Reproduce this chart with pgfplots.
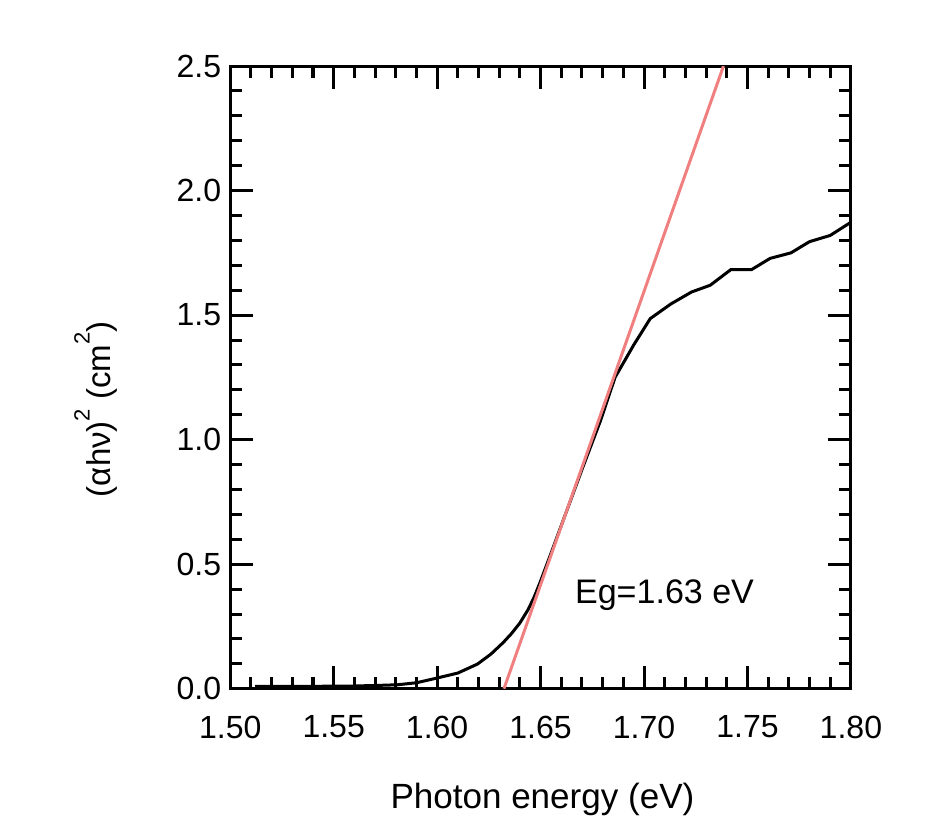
\documentclass[border=0pt]{standalone}
\usepackage{fontspec}
\setmainfont{Liberation Sans}
\usepackage{pgfplots}
\pgfplotsset{compat=1.18}

\definecolor{fitred}{RGB}{240,128,128}
\newcommand{\sq}{\raisebox{0.62em}{\fontsize{11}{11}\selectfont 2}}

\begin{document}
\begin{tikzpicture}
\begin{axis}[
  scale only axis,
  width=310pt, height=311pt,
  xmin=1.50, xmax=1.80,
  ymin=0, ymax=2.5,
  xtick={1.50,1.55,...,1.80},
  ytick={0,0.5,...,2.5},
  minor x tick num=4,
  minor y tick num=4,
  tick align=inside,
  major tick length=11.5pt,
  minor tick length=6pt,
  axis line style={line width=1.5pt},
  every tick/.style={black, line width=1.5pt},
  /pgf/number format/assume math mode=true,
  xticklabel={\pgfmathprintnumber[fixed,fixed zerofill,precision=2]{\tick}},
  yticklabel={\pgfmathprintnumber[fixed,fixed zerofill,precision=1]{\tick}},
  tick label style={font=\fontsize{16}{18}\selectfont},
  xticklabel style={yshift=-10pt},
  yticklabel style={xshift=-1pt},
  xlabel={Photon energy (eV)},
  ylabel={(αhν)\sq\ (cm\sq)},
  xlabel style={font=\fontsize{17.5}{20}\selectfont, at={(axis description cs:0.503,-0.193)}, anchor=base},
  ylabel style={font=\fontsize{16.5}{19}\selectfont, at={(axis description cs:-0.1935,0.449)}, anchor=base, rotate=0},
  clip=true,
]
% absorption spectrum
\addplot[black, line width=1.5pt] coordinates {
  (1.512,0.009) (1.520,0.009) (1.530,0.009) (1.545,0.010) (1.560,0.011)
  (1.570,0.013) (1.581,0.016) (1.590,0.024) (1.600,0.043) (1.610,0.063)
  (1.6195,0.099) (1.626,0.139) (1.632,0.186) (1.636,0.222) (1.640,0.264)
  (1.644,0.318) (1.647,0.370) (1.650,0.432) (1.656,0.565) (1.662,0.700)
  (1.670,0.880) (1.679,1.077) (1.686,1.250) (1.695,1.380) (1.703,1.486)
  (1.713,1.545) (1.723,1.593) (1.732,1.620) (1.742,1.683) (1.752,1.683)
  (1.761,1.728) (1.771,1.750) (1.780,1.795) (1.790,1.820) (1.800,1.873)
};
% linear extrapolation to the energy axis
\addplot[fitred, line width=1.5pt] coordinates {(1.6323,0) (1.7384,2.5)};
\node[anchor=base west, inner sep=0pt, font=\fontsize{17}{20}\selectfont] at (axis cs:1.6665,0.3416) {Eg=1.63 eV};
\end{axis}
\path ([shift={(-115pt,-73pt)}]current axis.south west) rectangle ([shift={(47pt,33pt)}]current axis.north east);
\end{tikzpicture}
\end{document}
